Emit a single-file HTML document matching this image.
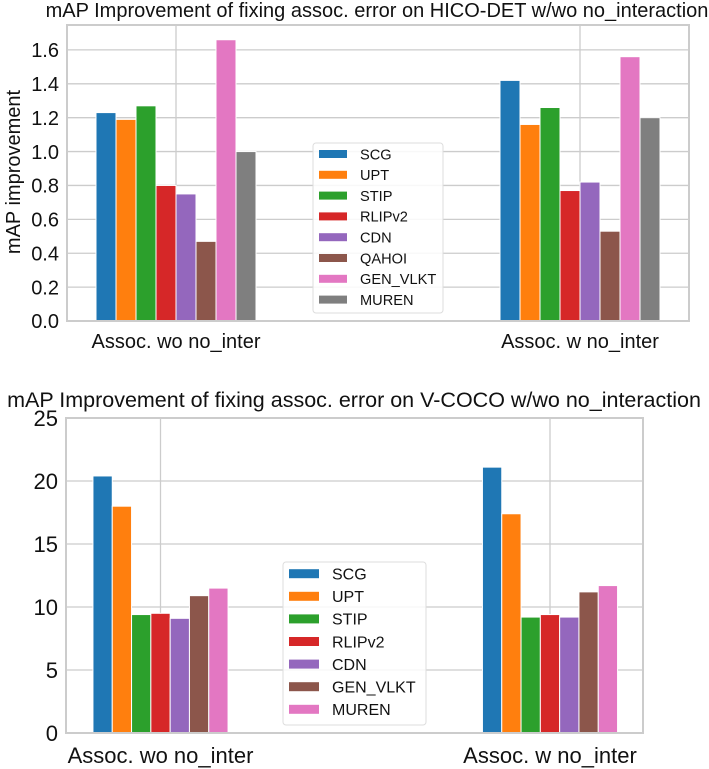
<!DOCTYPE html>
<html><head><meta charset="utf-8"><style>
html,body{margin:0;padding:0;background:#fff;}
svg{display:block;font-family:"Liberation Sans",Arial,sans-serif;}
</style></head><body>
<svg id="svg" width="709" height="769" xmlns="http://www.w3.org/2000/svg"></svg>
<script>
const NS="http://www.w3.org/2000/svg";
const categories=["Assoc. wo no_inter","Assoc. w no_inter"];
const topSeries=["SCG","UPT","STIP","RLIPv2","CDN","QAHOI","GEN_VLKT","MUREN"];
const topColors=["#1f77b4","#ff7f0e","#2ca02c","#d62728","#9467bd","#8c564b","#e377c2","#7f7f7f"];
const topWo=[1.23,1.19,1.27,0.80,0.75,0.47,1.66,1.00];
const topW=[1.42,1.16,1.26,0.77,0.82,0.53,1.56,1.20];
const topTicks=[0,0.2,0.4,0.6,0.8,1.0,1.2,1.4,1.6];
const botSeries=["SCG","UPT","STIP","RLIPv2","CDN","GEN_VLKT","MUREN"];
const botColors=["#1f77b4","#ff7f0e","#2ca02c","#d62728","#9467bd","#8c564b","#e377c2"];
const botWo=[20.4,18.0,9.4,9.5,9.1,10.9,11.5];
const botW=[21.1,17.4,9.2,9.4,9.2,11.2,11.7];
const botTicks=[0,5,10,15,20,25];
const svg=document.getElementById('svg');
function el(tag,attrs,parent){const e=document.createElementNS(NS,tag);for(const k in attrs)e.setAttribute(k,attrs[k]);(parent||svg).appendChild(e);return e;}
function chart(o){
  const g=el('g',{});
  
  
  const y=v=>o.bottom-(v-o.ymin)/(o.ymax-o.ymin)*(o.bottom-o.top);
  const xc=[o.c1,o.c2];
  o.ticks.forEach(t=>{
    const l=el('line',{x1:o.left,x2:o.right,y1:y(t),y2:y(t),stroke:'#cccccc','stroke-width':1.3},g);
    
    
    const tx=el('text',{x:o.left-8,y:y(t)+o.fs*0.36,'text-anchor':'end','font-size':o.fs,fill:'#111'},g);
    tx.textContent=o.fmt(t);
    
    
  });
  xc.forEach((cx,i)=>{
    const l=el('line',{x1:cx,x2:cx,y1:o.top,y2:o.bottom,stroke:'#cccccc','stroke-width':1.3},g);
    
    
    const tx=el('text',{x:cx,y:o.xly,'text-anchor':'middle','font-size':o.xfs,fill:'#111'},g);
    tx.textContent=categories[i];
    
    
  });
  const n=o.series.length;
  [o.wo,o.w].forEach((vals,gi)=>{
    vals.forEach((v,i)=>{
      const x=xc[gi]-n*o.bw/2+i*o.bw;
      const r=el('rect',{x:x,y:y(v),width:o.bw,height:o.bottom-y(v),fill:o.colors[i],stroke:'#fff','stroke-width':1},g);
      
      
    });
  });
  const fr=el('rect',{x:o.left,y:o.top,width:o.right-o.left,height:o.bottom-o.top,fill:'none',stroke:'#cccccc','stroke-width':2},g);
  
  
  const t=el('text',{x:o.tx,y:o.ty,'text-anchor':'middle','font-size':o.tfs,fill:'#111'},g);
  t.textContent=o.title;
  
  
  const lg=el('g',{},g);
  
  
  el('rect',{x:o.lx,y:o.ly,width:o.lw,height:o.lh,rx:3,fill:'#fff','fill-opacity':0.85,stroke:'#dddddd','stroke-width':1},lg);
  o.series.forEach((s,i)=>{
    const cy=o.ly1+i*o.lsp;
    const p=el('rect',{x:o.lx+6,y:cy-o.ph/2,width:o.pw,height:o.ph,fill:o.colors[i]},lg);
    
    
    const tx=el('text',{x:o.lx+6+o.pw+13,y:cy+o.lfs*0.36,'font-size':o.lfs,fill:'#111'},lg);
    tx.textContent=s;
    
    
  });
}
chart({name:'hico-det-chart',left:67,right:689,top:25,bottom:321,ymin:0,ymax:1.747,ticks:topTicks,fmt:t=>t.toFixed(1),fs:20,
  xfs:20,xly:348,
  c1:176,c2:580,bw:20,series:topSeries,colors:topColors,wo:topWo,w:topW,
  title:'mAP Improvement of fixing assoc. error on HICO-DET w/wo no_interaction',tx:377,ty:17,tfs:20,
  lx:313,ly:143,lw:130,lh:170,ly1:154,lsp:20.8,pw:28,ph:8,lfs:14.6});
chart({name:'v-coco-chart',left:66,right:643,top:418,bottom:733,ymin:0,ymax:25,ticks:botTicks,fmt:t=>String(t),fs:22,
  xfs:22,xly:763,
  c1:160.5,c2:550,bw:19.3,series:botSeries,colors:botColors,wo:botWo,w:botW,
  title:'mAP Improvement of fixing assoc. error on V-COCO w/wo no_interaction',tx:354,ty:407,tfs:21.5,
  lx:283,ly:562,lw:143,lh:163,ly1:573.7,lsp:22.6,pw:30,ph:9,lfs:16});
const yl=el('text',{x:0,y:0,transform:'translate(20,172) rotate(-90)','text-anchor':'middle','font-size':20,fill:'#111'});
yl.textContent='mAP improvement';


</script>
</body></html>
